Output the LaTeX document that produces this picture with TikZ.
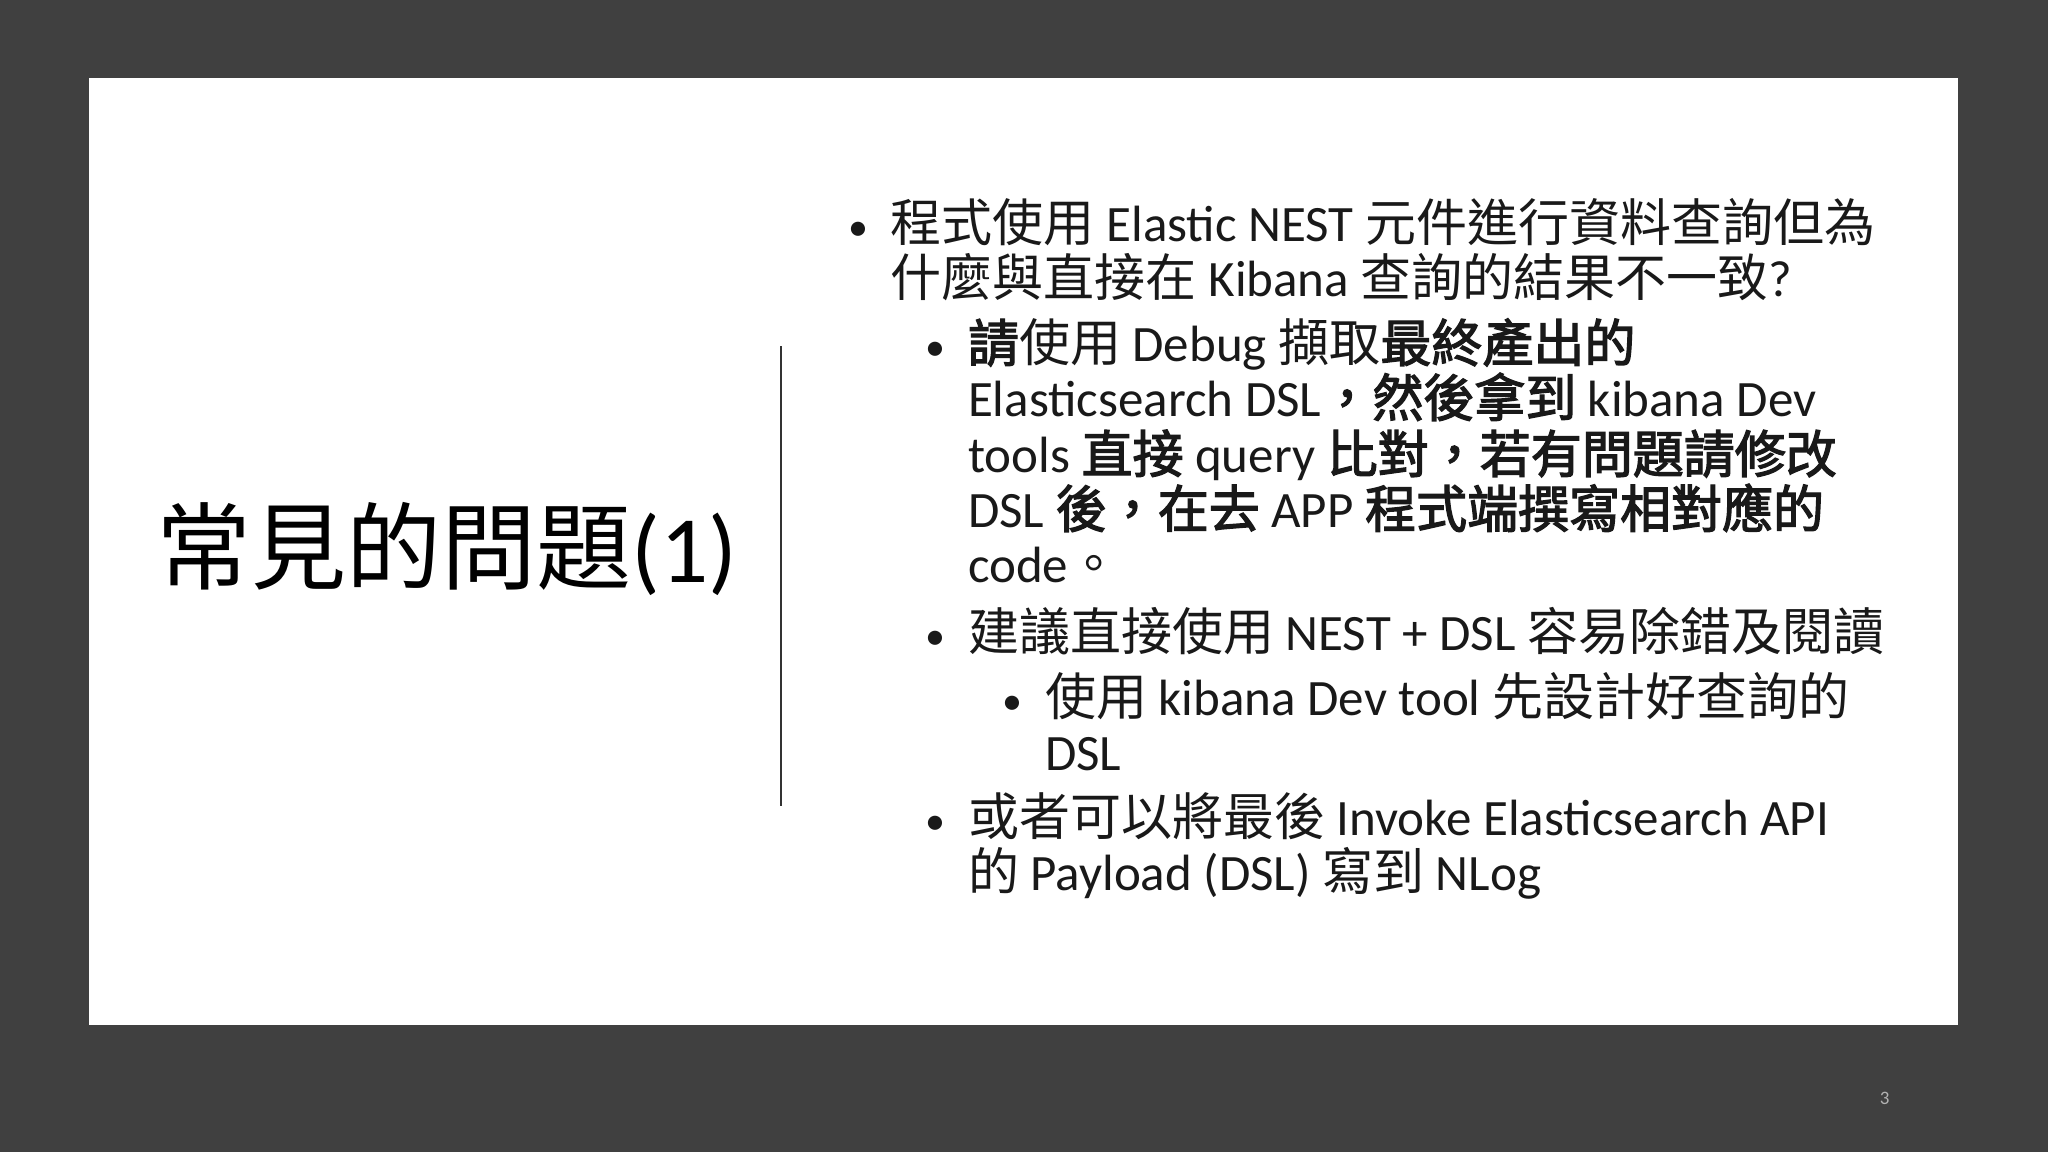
\documentclass[tikz,border=0pt]{standalone}
\usepackage{fontspec}
\setmainfont{Carlito}
\newfontfamily\cjk{Noto Sans CJK TC}
\newfontfamily\cjkb{Noto Sans CJK TC}[FakeBold=2.5]
\newcommand{\C}[1]{{\cjk #1}}
\newcommand{\B}[1]{{\cjkb #1}}
\definecolor{bgdark}{HTML}{404040}
\begin{document}
\begin{tikzpicture}[x=1.3061pt,y=-1.3061pt,
  ln/.style={anchor=base west,inner sep=0pt,font=\fontsize{51}{60}\selectfont,text=black!90},
  bul/.style={anchor=base,inner sep=0pt,font=\fontsize{40}{48}\selectfont,text=black!90}]
\fill[bgdark] (0,0) rectangle (1568,882);
\useasboundingbox (0,0) rectangle (1568,882);
\fill[white] (68,60) rectangle (1499,785);
\node[anchor=base west,inner sep=0pt,font=\fontsize{95}{100}\selectfont] (title) at (120,446) {\C{常見的問題}(1)};
\draw[line width=2.2pt,black!80] (598,265) coordinate (va) -- (598,617) coordinate (vb);
% level 1
\node[bul] (b1) at (657,184) {•};
\node[ln] (l1a) at (682,185) {\C{程式使用} Elastic NEST \C{元件進行資料查詢但為}};
\node[ln] (l1b) at (682,227) {\C{什麼與直接在} Kibana \C{查詢的結果不一致}?};
% level 2
\node[bul] (b2) at (716,276) {•};
\node[ln] (l2a) at (741,277) {\B{請}\C{使用} Debug \C{擷取}\B{最終產出的}};
\node[ln] (l2b) at (741,319) {Elasticsearch DSL\B{，然後拿到} kibana Dev};
\node[ln] (l2c) at (741,362) {tools \B{直接} query \B{比對，若有問題請修改}};
\node[ln] (l2d) at (741,404) {DSL \B{後，在去} APP \B{程式端撰寫相對應的}};
\node[ln] (l2e) at (741,446) {code\C{。}};
\node[bul] (b3) at (716,497) {•};
\node[ln] (l3a) at (741,498) {\C{建議直接使用} NEST + DSL \C{容易除錯及閱讀}};
\node[bul] (b4) at (775,547) {•};
\node[ln] (l4a) at (800,548) {\C{使用} kibana Dev tool \C{先設計好查詢的}};
\node[ln] (l4b) at (800,590) {DSL};
\node[bul] (b5) at (716,639) {•};
\node[ln] (l5a) at (741,640) {\C{或者可以將最後} Invoke Elasticsearch API};
\node[ln] (l5b) at (741,682) {\C{的} Payload (DSL) \C{寫到} NLog};
\node[inner sep=0pt,font=\fontsize{19}{22}\selectfont,text=black!30] (pg) at (1443,841) {3};
\end{tikzpicture}
\end{document}
